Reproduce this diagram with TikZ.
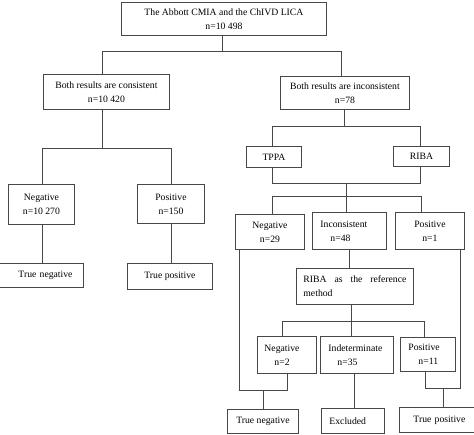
\documentclass[tikz,border=0pt]{standalone}
\usepackage{fontspec}
\setmainfont{Liberation Serif}
\begin{document}
\begin{tikzpicture}[x=1pt,y=-1pt,
  box/.style={draw=black!72, line width=0.9pt, rectangle, inner sep=0pt, anchor=north west,
    font=\fontsize{9.7}{14}\selectfont, align=center, text=black},
  lbox/.style={box, align=left, inner xsep=1pt,
    execute at begin node={\hyphenpenalty=10000\leftskip=#1\relax}},
  conn/.style={draw=black!72, line width=0.9pt}]
\fill[white] (0,0) rectangle (474,434);
\useasboundingbox (0,0) rectangle (474,434);
% boxes
\node[box, minimum width=205, minimum height=33] (top) at (121,2) {The Abbott CMIA and the ChIVD LICA\\n=10 498};
\node[box, minimum width=126, minimum height=35] (cons) at (43,74) {Both results are consistent\\n=10 420};
\node[box, minimum width=129, minimum height=33] (incons) at (280,76) {Both results are inconsistent\\n=78};
\node[box, minimum width=66, minimum height=40] (neg1) at (8,184) {Negative\\n=10 270};
\node[box, minimum width=67, minimum height=39] (pos1) at (137,184) {Positive\\n=150};
\node[lbox=18pt, minimum width=84, minimum height=24, text width=82pt] (tneg1) at (-1,263) {True negative};
\node[box, minimum width=85, minimum height=26] (tpos1) at (127,263) {True positive};
\node[box, minimum width=55, minimum height=21] (tppa) at (246,146) {TPPA};
\node[box, minimum width=56, minimum height=20] (riba) at (393,146) {RIBA};
\node[box, minimum width=69, minimum height=35] (neg2) at (235,214) {Negative\\n=29};
\node[lbox=7pt, minimum width=74, minimum height=37, text width=72pt] (inc2) at (312,212) {Inconsistent\\\hspace*{10pt}n=48};
\node[box, minimum width=69, minimum height=37] (pos2) at (395,212) {Positive\\n=1};
\node[box, align=left, minimum width=117, minimum height=36, inner xsep=7pt, text width=103pt] (ref) at (296,268) {RIBA\hfill as\hfill the\hfill reference\\method};
\node[lbox=6pt, minimum width=59, minimum height=37, text width=57pt] (neg3) at (257,336) {Negative\\\hspace*{10pt}n=2};
\node[lbox=7pt, minimum width=73, minimum height=37, text width=71pt] (ind) at (320,336) {Indeterminate\\\hspace*{9pt}n=35};
\node[lbox=7pt, minimum width=55, minimum height=34, text width=53pt] (pos3) at (400,337) {Positive\\\hspace*{10pt}n=11};
\node[box, minimum width=71, minimum height=24] (tneg2) at (227,409) {True negative};
\node[lbox=7pt, minimum width=63, minimum height=25, text width=61pt] (excl) at (321,408) {Excluded};
\node[lbox=13pt, minimum width=77, minimum height=25, text width=75pt] (tpos2) at (399,407) {True positive};
% junction coordinates
\coordinate (j0) at (222,51);
\coordinate (j0l) at (102,51);
\coordinate (j0r) at (341,51);
\coordinate (j1) at (102,148);
\coordinate (j1l) at (42,148);
\coordinate (j1r) at (171,148);
\coordinate (j2) at (344,126);
\coordinate (j2l) at (272,126);
\coordinate (j2r) at (420,126);
\coordinate (j3l) at (272,183);
\coordinate (j3r) at (420,183);
\coordinate (j3) at (346,183);
\coordinate (j4) at (346,196);
\coordinate (j4l) at (272,196);
\coordinate (j4r) at (421,196);
\coordinate (j5) at (351,321);
\coordinate (j5l) at (282,321);
\coordinate (j5r) at (424,321);
\coordinate (j6l) at (239,390);
\coordinate (j6r) at (287,390);
\coordinate (j6) at (263,390);
\coordinate (j7l) at (425,388);
\coordinate (j7r) at (460,388);
\coordinate (j7) at (443,388);
\coordinate (k1) at (349,0);
\coordinate (k2) at (354,0);
% connectors
\draw[conn] (top.south -| j0) -- (j0);
\draw[conn] (cons.north -| j0l) -- (j0l) -- (j0r) -- (incons.north -| j0r);
\draw[conn] (cons.south -| j1) -- (j1);
\draw[conn] (neg1.north -| j1l) -- (j1l) -- (j1r) -- (pos1.north -| j1r);
\draw[conn] (neg1.south -| j1l) -- (tneg1.north -| j1l);
\draw[conn] (pos1.south -| j1r) -- (tpos1.north -| j1r);
\draw[conn] (incons.south -| j2) -- (j2);
\draw[conn] (tppa.north -| j2l) -- (j2l) -- (j2r) -- (riba.north -| j2r);
\draw[conn] (tppa.south -| j3l) -- (j3l) -- (j3r) -- (riba.south -| j3r);
\draw[conn] (j3) -- (j4);
\draw[conn] (neg2.north -| j4l) -- (j4l) -- (j4r) -- (pos2.north -| j4r);
\draw[conn] (j4) -- (inc2.north -| j4);
\draw[conn] (inc2.south -| k1) -- (ref.north -| k1);
\draw[conn] (ref.south -| j5) -- (j5);
\draw[conn] (neg3.north -| j5l) -- (j5l) -- (j5r) -- (pos3.north -| j5r);
\draw[conn] (j5) -- (ind.north -| j5);
\draw[conn] (neg2.south -| j6l) -- (j6l) -- (j6r) -- (neg3.south -| j6r);
\draw[conn] (j6) -- (tneg2.north -| j6);
\draw[conn] (ind.south -| k2) -- (excl.north -| k2);
\draw[conn] (pos3.south -| j7l) -- (j7l) -- (j7r) -- (pos2.south -| j7r);
\draw[conn] (j7) -- (tpos2.north -| j7);
\end{tikzpicture}
\end{document}
